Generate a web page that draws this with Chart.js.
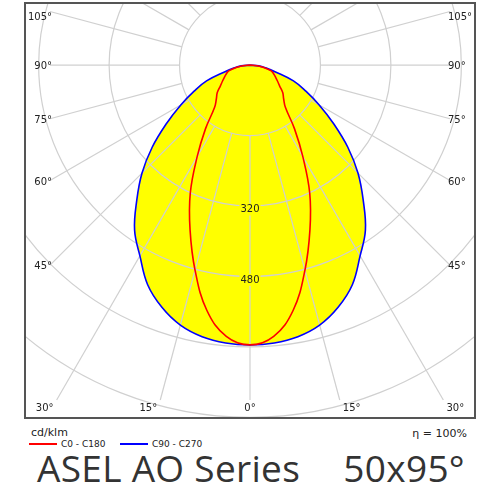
<!DOCTYPE html>
<html>
<head>
<meta charset="utf-8">
<script src="https://cdn.jsdelivr.net/npm/chart.js@4.4.0/dist/chart.umd.min.js"></script>
<style>
  body { margin: 0; background: #fff; }
  #wrap { position: relative; width: 500px; height: 500px; font-family: 'DejaVu Sans', sans-serif; color: #222; }
  #plot { position: absolute; left: 0; top: 0; width: 500px; height: 420px; }
  .t { position: absolute; white-space: nowrap; line-height: 1; }
  .key { position: absolute; height: 2px; width: 28px; }
  .title { position: absolute; top: 449px; font-family: 'Open Sans', sans-serif; font-size: 37px; letter-spacing: 0.3px; line-height: 1; color: #333; white-space: nowrap; }
</style>
</head>
<body>
<div id="wrap">
  <div id="plot"><canvas id="grafico-polar"></canvas></div>
  <span class="t" style="left:31px;top:427px;font-size:11px">cd/klm</span>
  <span class="key" style="left:29px;top:443px;background:#ff0000"></span>
  <span class="t" style="left:61px;top:439.5px;font-size:9px">C0 - C180</span>
  <span class="key" style="left:120px;top:443px;background:#0000ff"></span>
  <span class="t" style="left:152px;top:439.5px;font-size:9px">C90 - C270</span>
  <span class="t" style="right:33px;top:427.5px;font-size:11px">η = 100%</span>
  <span class="title" style="left:37px">ASEL AO Series</span>
  <span class="title" style="right:35px">50x95°</span>
</div>
<script>
// gamma angles (deg from nadir) and intensities in cd/klm
const angulos = [0, 5, 10, 15, 20, 25, 30, 35, 40, 45, 50, 55, 60, 65, 70, 75, 80, 85, 90];
const c0   = [635, 618, 565, 482, 398, 321, 240, 176, 125, 108, 97, 82, 72, 64, 57, 50, 32, 16, 0];
const c180 = [635, 618, 565, 482, 398, 321, 240, 176, 125, 108, 97, 82, 72, 64, 57, 50, 32, 16, 0];
const c90  = [635, 633, 626, 611, 585, 550, 500, 457, 400, 347, 290, 232, 182, 140, 105, 60, 36, 20, 0];
const c270 = [635, 633, 626, 611, 585, 550, 500, 457, 400, 347, 290, 232, 182, 140, 105, 60, 36, 20, 0];

const aneis = [160, 320, 480, 640, 800, 960];
const rotulosAneis = [320, 480];
const rotulosAngulos = [0, 15, 30, 45, 60, 75, 90, 105];

// visible window in cd/klm, same scale on both axes
const X_MAX = 511;
const Y_MIN = -801;
const Y_MAX = 141;

// left half goes 90 -> 0, right half 0 -> 90
function curva(esq, dir) {
  const pts = [];
  for (let i = angulos.length - 1; i >= 0; i--) {
    const r = angulos[i] * Math.PI / 180;
    pts.push({ x: -esq[i] * Math.sin(r), y: -esq[i] * Math.cos(r) });
  }
  for (let i = 1; i < angulos.length; i++) {
    const r = angulos[i] * Math.PI / 180;
    pts.push({ x: dir[i] * Math.sin(r), y: -dir[i] * Math.cos(r) });
  }
  return pts;
}

function fimRaio(chart, g) {
  const a = chart.chartArea;
  const cx = chart.scales.x.getPixelForValue(0);
  const cy = chart.scales.y.getPixelForValue(0);
  const dx = Math.sin(g * Math.PI / 180), dy = Math.cos(g * Math.PI / 180);
  const xl = a.left + 25, xr = a.right - 25, yb = a.bottom - 18;
  let t = 5000, lado = 'b';
  if (dx < -1e-9 && (cx - xl) / -dx < t) { t = (cx - xl) / -dx; lado = 's'; }
  if (dx > 1e-9 && (xr - cx) / dx < t) { t = (xr - cx) / dx; lado = 's'; }
  if (dy > 1e-9 && (yb - cy) / dy < t) { t = (yb - cy) / dy; lado = 'b'; }
  if (dy < -1e-9 && (cy - a.top) / -dy < t) { t = (cy - a.top) / -dy; lado = 't'; }
  return { t, dx, dy, cx, cy, lado };
}

const grade = {
  id: 'grade',
  beforeDatasetDraw(chart, args) {
    if (args.index !== 1) return; // right after the yellow fill
    const { ctx, chartArea: a, scales: { x } } = chart;
    const cx = x.getPixelForValue(0);
    const cy = chart.scales.y.getPixelForValue(0);
    const k = x.getPixelForValue(1) - cx;
    ctx.save();
    ctx.beginPath();
    ctx.rect(a.left, a.top, a.width, a.height);
    ctx.clip();
    ctx.strokeStyle = '#d0d0d0';
    ctx.lineWidth = 1.2;
    aneis.forEach(v => {
      ctx.beginPath();
      ctx.arc(cx, cy, v * k, 0, Math.PI * 2);
      ctx.stroke();
    });
    const r0 = aneis[0] * k;
    for (let g = -165; g <= 180; g += 15) {
      const f = fimRaio(chart, g);
      if (f.t <= r0) continue;
      ctx.beginPath();
      ctx.moveTo(cx + f.dx * r0, cy + f.dy * r0);
      ctx.lineTo(cx + f.dx * f.t, cy + f.dy * f.t);
      ctx.stroke();
    }
    ctx.restore();
  },
  afterDatasetsDraw(chart) {
    const { ctx, chartArea: a, scales: { x } } = chart;
    const cx = x.getPixelForValue(0);
    const cy = chart.scales.y.getPixelForValue(0);
    const k = x.getPixelForValue(1) - cx;
    ctx.save();
    ctx.font = '10px "DejaVu Sans"';
    ctx.fillStyle = '#222';
    ctx.textBaseline = 'middle';

    rotulosAneis.forEach(v => {
      const ty = cy + v * k + 3.5;
      const w = ctx.measureText(String(v)).width;
      ctx.fillStyle = '#ffff00';
      ctx.fillRect(cx - w / 2 - 1, ty - 6, w + 2, 12);
      ctx.fillStyle = '#222';
      ctx.textAlign = 'center';
      ctx.fillText(String(v), cx, ty);
    });

    rotulosAngulos.forEach(g => {
      [-1, 1].forEach(s => {
        if (g === 0 && s === 1) return;
        const f = fimRaio(chart, s * g);
        const ex = cx + f.dx * f.t, ey = cy + f.dy * f.t;
        const txt = g + '°';
        if (f.lado === 'b') {
          ctx.textAlign = 'center';
          ctx.fillText(txt, ex + (g === 0 ? 0 : s * 12), ey + 8);
        } else {
          ctx.textAlign = s < 0 ? 'right' : 'left';
          ctx.fillText(txt, ex - s * 2, Math.max(ey + 1.5, a.top + 14));
        }
      });
    });

    ctx.strokeStyle = '#555';
    ctx.lineWidth = 2;
    ctx.strokeRect(a.left, a.top, a.width, a.height);
    ctx.restore();
  }
};

document.addEventListener('DOMContentLoaded', () => {
  const ctx = document.getElementById('grafico-polar').getContext('2d');
  new Chart(ctx, {
    type: 'scatter',
    data: {
      datasets: [{
        label: 'C0 - C180',
        data: curva(c180, c0),
        showLine: true,
        borderColor: '#ff0000',
        borderWidth: 1.6,
        pointRadius: 0,
        tension: 0.4,
        fill: false,
        order: 1
      }, {
        label: 'C90 - C270',
        data: curva(c270, c90),
        showLine: true,
        borderColor: '#0000ff',
        backgroundColor: '#ffff00',
        borderWidth: 1.6,
        pointRadius: 0,
        tension: 0.4,
        fill: 'shape',
        order: 2
      }]
    },
    options: {
      responsive: true,
      maintainAspectRatio: false,
      animation: false,
      layout: { padding: { left: 25, right: 25, top: 3, bottom: 2 } },
      scales: {
        x: { type: 'linear', display: false, min: -X_MAX, max: X_MAX },
        y: { type: 'linear', display: false, min: Y_MIN, max: Y_MAX }
      },
      plugins: {
        legend: { display: false },
        tooltip: { enabled: false }
      }
    },
    plugins: [grade]
  });
});
</script>
</body>
</html>
